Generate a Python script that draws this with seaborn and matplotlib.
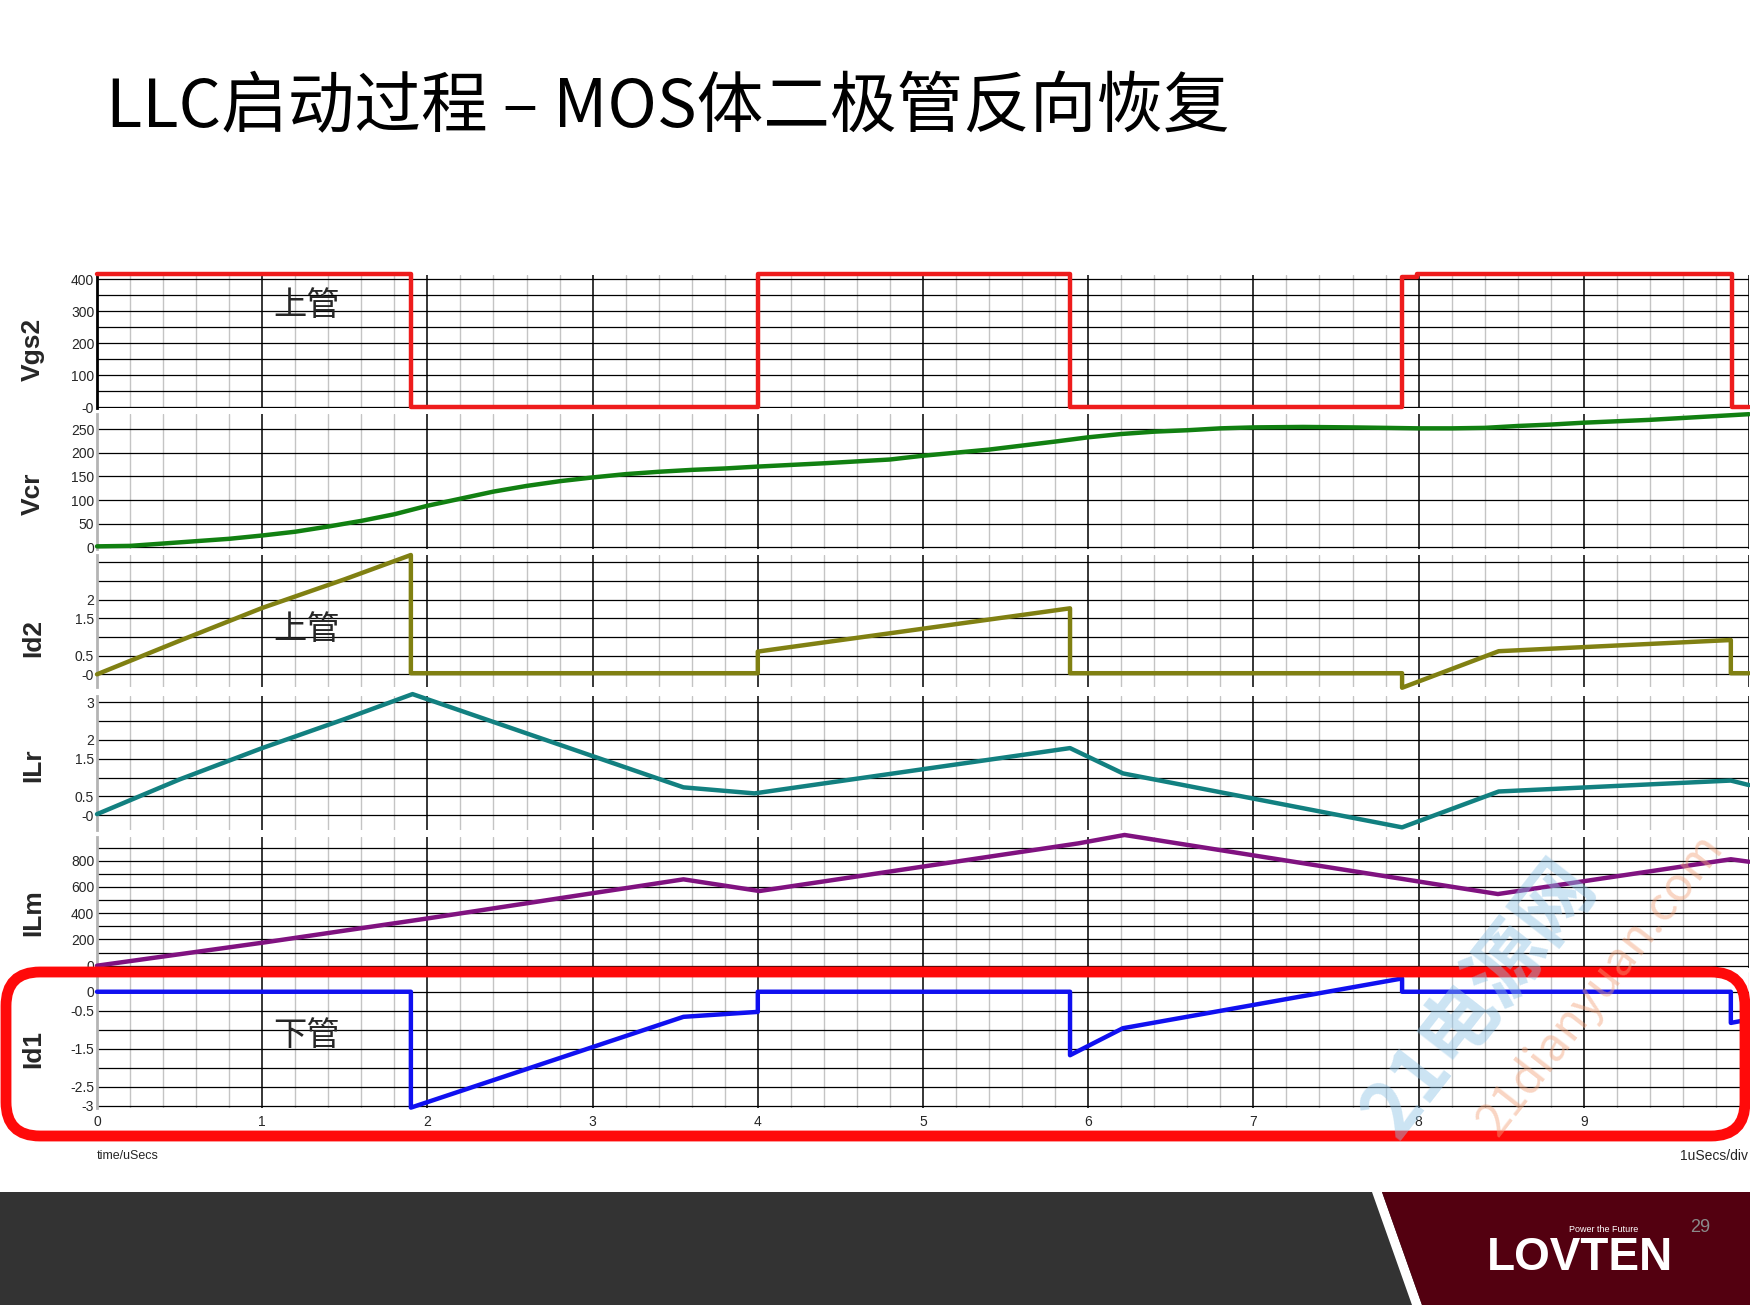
import numpy as np
import matplotlib
matplotlib.use("Agg")
import matplotlib.pyplot as plt
import seaborn as sns
from matplotlib.patches import FancyBboxPatch, Polygon

# ---- data (x in uSecs) ----
vgs2_t = [0, 1.90, 1.90, 4.00, 4.00, 5.89, 5.89, 7.90, 7.90, 7.99, 7.99, 9.895, 9.895, 10.0]
vgs2_v = [415, 415, 0, 0, 415, 415, 0, 0, 406, 406, 415, 415, 0, 0]

vcr_t = [0, 0.2, 0.4, 0.6, 0.8, 1.0, 1.2, 1.4, 1.6, 1.8, 2.0, 2.2, 2.4, 2.6, 2.8, 3.0,
         3.2, 3.4, 3.6, 3.8, 4.0, 4.4, 4.8, 5.0, 5.4, 5.8, 6.0, 6.2, 6.4, 6.6, 6.8,
         7.0, 7.3, 7.6, 7.8, 8.0, 8.2, 8.4, 8.6, 8.8, 9.0, 9.2, 9.4, 9.6, 9.8, 10.0]
vcr_v = [2, 3, 8, 13, 18, 25, 33, 44, 56, 70, 88, 103, 118, 130, 140, 148,
         155, 160, 164, 167, 171, 178, 186, 194, 207, 224, 233, 240, 245, 248, 252,
         254, 255, 254, 253, 252, 252, 253, 257, 260, 264, 267, 270, 274, 278, 282]

id2_t = [0, 0.5, 1.0, 1.5, 1.90, 1.90, 4.00, 4.00, 5.89, 5.89, 7.90, 7.90, 8.485, 9.89, 9.89, 10.0]
id2_v = [0, 0.9, 1.78, 2.55, 3.2, 0.03, 0.03, 0.61, 1.77, 0.03, 0.03, -0.36, 0.62, 0.92, 0.03, 0.03]

ilr_t = [0, 0.5, 1.0, 1.5, 1.91, 3.55, 3.98, 5.89, 6.21, 7.90, 8.485, 9.89, 10.0]
ilr_v = [0.03, 0.95, 1.78, 2.55, 3.21, 0.74, 0.58, 1.78, 1.11, -0.32, 0.63, 0.92, 0.8]

ilm_t = [0, 1.0, 2.0, 3.55, 4.01, 5.94, 6.22, 8.48, 9.89, 10.0]
ilm_v = [0, 175, 360, 658, 569, 932, 996, 546, 811, 792]

id1_t = [0, 1.90, 1.90, 3.55, 4.00, 4.00, 5.89, 5.89, 6.21, 7.90, 7.90, 9.89, 9.89, 10.0]
id1_v = [0, 0, -3.05, -0.66, -0.53, 0, 0, -1.67, -0.96, 0.35, 0, 0, -0.82, -0.73]

# tick grids and the labels the scope actually printed
vgs2_ticks = [0, 50, 100, 150, 200, 250, 300, 350, 400]
vgs2_labels = ["-0", "", "100", "", "200", "", "300", "", "400"]
vcr_ticks = [0, 50, 100, 150, 200, 250]
vcr_labels = ["0", "50", "100", "150", "200", "250"]
id2_ticks = [0, 0.5, 1, 1.5, 2, 2.5, 3]
id2_labels = ["-0", "0.5", "", "1.5", "2", "", ""]
ilr_ticks = [0, 0.5, 1, 1.5, 2, 2.5, 3]
ilr_labels = ["-0", "0.5", "", "1.5", "2", "", "3"]
ilm_ticks = [0, 100, 200, 300, 400, 500, 600, 700, 800, 900]
ilm_labels = ["0", "", "200", "", "400", "", "600", "", "800", ""]
id1_ticks = [0, -0.5, -1, -1.5, -2, -2.5, -3]
id1_labels = ["0", "-0.5", "", "-1.5", "", "-2.5", "-3"]
x_ticks = [0, 1, 2, 3, 4, 5, 6, 7, 8, 9]

sns.set_style("white")
plt.rcParams["font.family"] = ["Noto Sans CJK SC", "DejaVu Sans"]

W, H = 1750, 1305
fig = plt.figure(figsize=(W / 100, H / 100), dpi=100)

X0, X1 = 97, 1749
# name, t, v, color, ticks, labels, top px, bottom px, ylim, label y
panels = [
    ("Vgs2", vgs2_t, vgs2_v, "#ee1c1c", vgs2_ticks, vgs2_labels, 275, 408, (-3.1, 412.5), 349),
    ("Vcr", vcr_t, vcr_v, "#118011", vcr_ticks, vcr_labels, 414, 549, (-3.6, 282.4), 494),
    ("Id2", id2_t, id2_v, "#808012", id2_ticks, id2_labels, 555, 687, (-0.34, 3.2), 638),
    ("ILr", ilr_t, ilr_v, "#128080", ilr_ticks, ilr_labels, 696, 830, (-0.39, 3.16), 765),
    ("ILm", ilm_t, ilm_v, "#801280", ilm_ticks, ilm_labels, 837, 968, (-17.5, 980.6), 913),
    ("Id1", id1_t, id1_v, "#1010f0", id1_ticks, id1_labels, 972, 1108, (-3.06, 0.52), 1049),
]

tick_font = dict(family=["Liberation Sans Narrow", "Liberation Sans"], size=10)

axes = []
for i, (name, t, v, col, ticks, labels, top, bot, ylim, ly) in enumerate(panels):
    ax = fig.add_axes([X0 / W, 1 - bot / H, (X1 - X0) / W, (bot - top) / H])
    ax.set_facecolor("none")
    ax.set_xlim(0, 10)
    ax.set_ylim(*ylim)
    ax.set_xticks(np.arange(0, 10.01, 1))
    ax.set_xticks(np.arange(0, 10.01, 0.2), minor=True)
    ax.grid(which="minor", axis="x", color="#c4c4c4", lw=1.0)
    ax.grid(which="major", axis="x", color="black", lw=1.1)
    ax.set_yticks(ticks)
    ax.set_yticklabels(labels, fontdict=tick_font)
    ax.grid(which="major", axis="y", color="black", lw=0.9)
    for s in ["top", "right", "bottom"]:
        ax.spines[s].set_visible(False)
    ax.spines["left"].set_color("black" if i == 0 else "#b4b4b4")
    ax.spines["left"].set_linewidth(2)
    ax.tick_params(axis="y", length=0, pad=2)
    ax.tick_params(axis="x", which="both", length=0)
    if i < len(panels) - 1:
        ax.set_xticklabels([])
    else:
        ax.set_xticks(x_ticks)
        ax.set_xticklabels([str(k) for k in x_ticks], fontdict=tick_font)
        ax.tick_params(axis="x", which="major", length=4, pad=1, color="black")
        ax.tick_params(axis="x", which="minor", length=3, color="#999999")
    ax.set_axisbelow(True)
    sns.lineplot(x=t, y=v, ax=ax, color=col, lw=3.2, estimator=None, sort=False,
                 clip_on=False, zorder=5)
    ax.set_xlabel("")
    ax.set_ylabel("")
    axes.append(ax)

# overlay in pixel coordinates for slide decorations
ov = fig.add_axes([0, 0, 1, 1], zorder=10)
ov.set_xlim(0, W)
ov.set_ylim(H, 0)
ov.axis("off")
ov.patch.set_alpha(0)

ov.text(106, 127, "LLC启动过程 – MOS体二极管反向恢复", fontsize=48, ha="left",
        va="baseline", color="black")

for (name, *_rest) in panels:
    ly = _rest[-1]
    ov.text(33, ly, name, rotation=90, ha="center", va="center", fontsize=19,
            fontweight="bold", family=["Liberation Sans", "DejaVu Sans"])

ov.text(307, 306, "上管", fontsize=24, ha="center", va="center")
ov.text(307, 629, "上管", fontsize=24, ha="center", va="center")
ov.text(307, 1036, "下管", fontsize=24, ha="center", va="center")

ov.text(97, 1156, "time/uSecs", fontsize=9, ha="left", va="center",
        family=["Liberation Sans Narrow", "Liberation Sans"])
ov.text(1748, 1156, "1uSecs/div", fontsize=10, ha="right", va="center",
        family=["Liberation Sans Narrow", "Liberation Sans"])

# watermark
ov.text(1480, 1000, "21电源网", fontsize=56, rotation=52, ha="center", va="center",
        color="#8ec3e6", alpha=0.45, fontweight="bold")
ov.text(1600, 985, "21dianyuan.com", fontsize=34, rotation=52, ha="center", va="center",
        color="#f2a27a", alpha=0.45)

# red highlight around Id1
box = FancyBboxPatch((6, 972), 1739, 164, boxstyle="round,pad=0,rounding_size=34",
                     fill=False, ec="#ff0a0a", lw=7.8)
ov.add_patch(box)

# footer
ov.add_patch(Polygon([(0, 1192), (W, 1192), (W, H), (0, H)], closed=True,
                     fc="#333333", ec="none"))
ov.add_patch(Polygon([(1372, 1192), (1382, 1192), (1422, H), (1412, H)], closed=True,
                     fc="white", ec="none"))
ov.add_patch(Polygon([(1382, 1192), (W, 1192), (W, H), (1422, H)], closed=True,
                     fc="#530010", ec="none"))
ov.text(1580, 1258, "LOVTEN", fontsize=33, fontweight="bold", color="white",
        ha="center", va="center", family=["Liberation Sans", "DejaVu Sans"])
ov.text(1604, 1230, "Power the Future", fontsize=6.5, color="white",
        ha="center", va="center", family=["Liberation Sans", "DejaVu Sans"])
ov.text(1700, 1228, "29", fontsize=13, color="#8a8a8a", ha="center", va="center",
        family=["Liberation Sans", "DejaVu Sans"])

fig.savefig("out.png", dpi=100)
